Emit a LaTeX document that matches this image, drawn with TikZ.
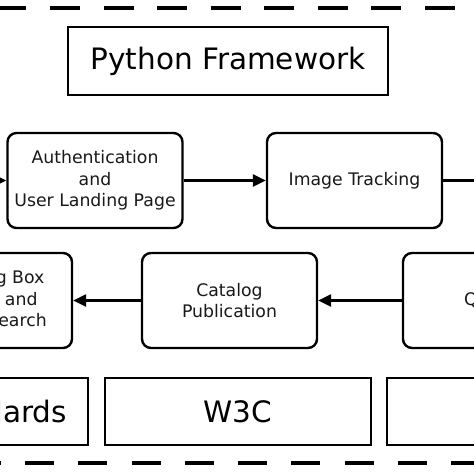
\documentclass[tikz,border=0pt]{standalone}
\usepackage{fontspec}
\setmainfont{DejaVu Sans}
\usetikzlibrary{arrows.meta}
\begin{document}
\begin{tikzpicture}[x=1pt,y=-1pt,
  box/.style={draw=black, line width=2.4pt, rounded corners=9pt, minimum width=175pt, minimum height=95pt, inner sep=0pt, align=center, font=\fontsize{17.3}{21.5}\selectfont, text=black!90},
  plainbox/.style={draw=black, line width=2.4pt, minimum height=67pt, inner sep=0pt, font=\fontsize{29.5}{35}\selectfont, text=black},
  flow/.style={line width=2.4pt, -{Triangle[length=13pt,width=12pt]}},
  sepline/.style={line width=3.2pt, dash pattern=on 30pt off 23.57pt}]
\useasboundingbox (0,0) rectangle (474,474);
\clip (0,0) rectangle (474,474);
\fill[white] (0,0) rectangle (474,474);

\node[plainbox, minimum width=320pt, minimum height=68pt] (py) at (228,61) {Python Framework};

\node[box] (auth) at (95,180.5) {Authentication\\and\\User Landing Page};
\node[box] (img) at (354.5,180.5) {Image Tracking};

\node[box] (bbox) at (-15.5,300.5) {Bounding Box\\Polygon and\\Spatial Search};
\node[box] (cat) at (229.5,300.5) {Catalog\\Publication};
\node[box] (qry) at (490.5,300.5) {Query};

\node[plainbox, minimum width=268pt] (ogc) at (-46,411.5) {OGC Standards};
\node[plainbox, minimum width=266pt] (w3c) at (238,411.5) {W3C};
\node[plainbox, minimum width=266pt] (iso) at (520,411.5) {};

\coordinate (inL) at (-20,180.5);
\coordinate (outR) at (490,180.5);
\draw[flow] (inL) -- (auth.west);
\draw[flow] (auth) -- (img);
\draw[line width=2.4pt] (img.east) -- (outR);
\draw[flow] (qry) -- (cat);
\draw[flow] (cat) -- (bbox);

\coordinate (dl1) at (-3.57,8);
\coordinate (dr1) at (490,8);
\draw[sepline] (dl1) -- (dr1);
\coordinate (dl2) at (-28.4,463);
\coordinate (dr2) at (490,463);
\draw[sepline, dash pattern=on 29pt off 24.3pt] (dl2) -- (dr2);
\end{tikzpicture}
\end{document}
